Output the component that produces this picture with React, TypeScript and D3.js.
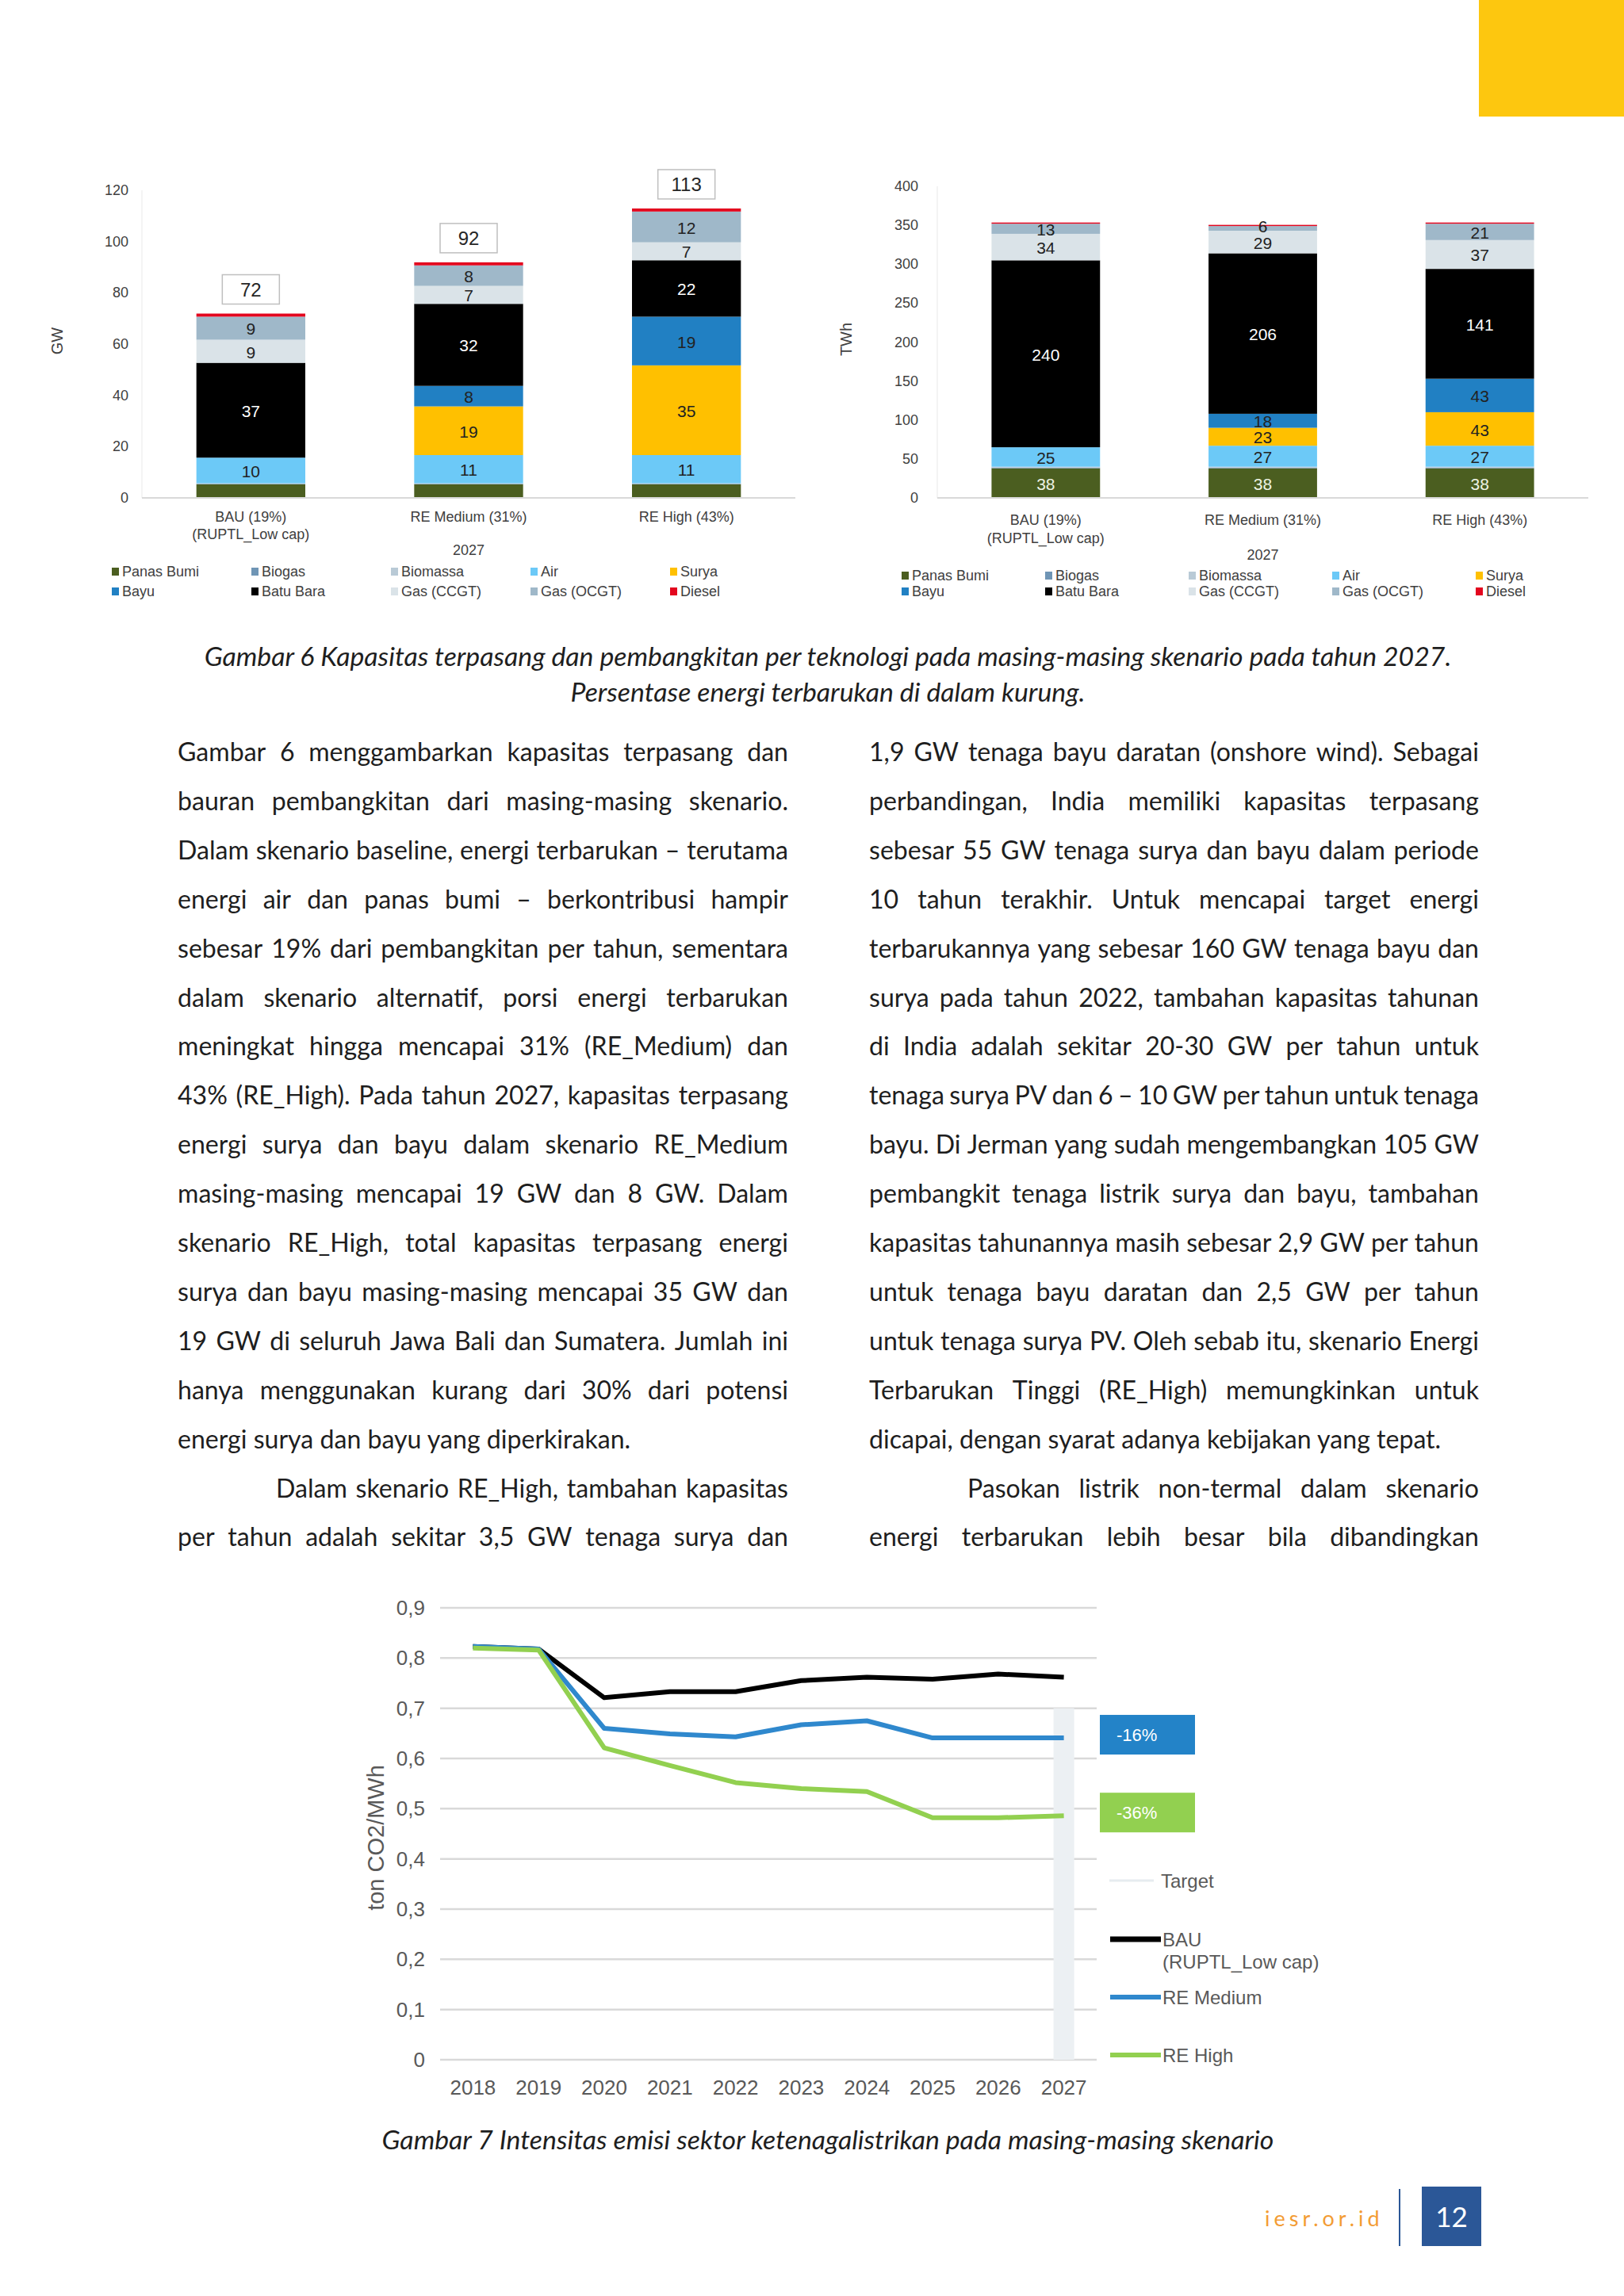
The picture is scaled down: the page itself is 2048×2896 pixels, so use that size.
import * as d3 from "d3";

const FONT_CHART = "'Liberation Sans', Arial, sans-serif";
const FONT_BODY = "Lato, 'Open Sans', sans-serif";

// ---------- Gambar 6: stacked bars ----------
const scenarios = ["BAU (19%)", "RE Medium (31%)", "RE High (43%)"];
const scenarioSub = ["(RUPTL_Low cap)", "", ""];
const yearLabel = "2027";
const techs = ["Panas Bumi", "Biogas", "Biomassa", "Air", "Surya", "Bayu", "Batu Bara", "Gas (CCGT)", "Gas (OCGT)", "Diesel"];
const techColors = ["#4B5E20", "#6F95B5", "#B9CAD6", "#6CC9F7", "#FFC000", "#2180C3", "#000000", "#DAE3E8", "#9FB8C9", "#E3061E"];
const techLabelColors = ["#EEF3E4", "#222", "#222", "#222", "#222", "#222", "#FFFFFF", "#222", "#222", "#222"];

// installed capacity, GW
const capPanasBumi = [5.3, 5.3, 5.3];
const capBiogas = [0.2, 0.2, 0.2];
const capBiomassa = [0.2, 0.2, 0.2];
const capAir = [10, 11, 11];
const capSurya = [0, 19, 35];
const capBayu = [0, 8, 19];
const capBatuBara = [37, 32, 22];
const capGasCCGT = [9, 7, 7];
const capGasOCGT = [9, 8, 12];
const capDiesel = [1.2, 1.2, 1.2];
const capTicks = [0, 20, 40, 60, 80, 100, 120];

// generation, TWh
const genPanasBumi = [38, 38, 38];
const genBiogas = [1, 1, 1];
const genBiomassa = [1, 1, 1];
const genAir = [25, 27, 27];
const genSurya = [0, 23, 43];
const genBayu = [0, 18, 43];
const genBatuBara = [240, 206, 141];
const genGasCCGT = [34, 29, 37];
const genGasOCGT = [13, 6, 21];
const genDiesel = [1.5, 1.5, 1.5];
const genTicks = [0, 50, 100, 150, 200, 250, 300, 350, 400];

const capSeries = [capPanasBumi, capBiogas, capBiomassa, capAir, capSurya, capBayu, capBatuBara, capGasCCGT, capGasOCGT, capDiesel];
const genSeries = [genPanasBumi, genBiogas, genBiomassa, genAir, genSurya, genBayu, genBatuBara, genGasCCGT, genGasOCGT, genDiesel];

// ---------- Gambar 7: emission intensity ----------
const years = ["2018", "2019", "2020", "2021", "2022", "2023", "2024", "2025", "2026", "2027"];
const bauIntensity = [0.823, 0.818, 0.721, 0.733, 0.733, 0.755, 0.762, 0.758, 0.768, 0.762];
const reMediumIntensity = [0.823, 0.818, 0.660, 0.649, 0.643, 0.667, 0.675, 0.641, 0.641, 0.641];
const reHighIntensity = [0.820, 0.816, 0.621, 0.586, 0.552, 0.540, 0.534, 0.482, 0.482, 0.486];
const intensityTicks = [0, 0.1, 0.2, 0.3, 0.4, 0.5, 0.6, 0.7, 0.8, 0.9];
const targetYear = "2027";
const targetValue = 0.7;
const reductionLabels = ["-16%", "-36%"];

// ---------- text ----------
const caption6 = [
  "Gambar 6 Kapasitas terpasang dan pembangkitan per teknologi pada masing-masing skenario pada tahun 2027.",
  "Persentase energi terbarukan di dalam kurung.",
];
const caption7 = "Gambar 7 Intensitas emisi sektor ketenagalistrikan pada masing-masing skenario";

const leftLines = [
  "Gambar 6 menggambarkan kapasitas terpasang dan",
  "bauran pembangkitan dari masing-masing skenario.",
  "Dalam skenario baseline, energi terbarukan – terutama",
  "energi air dan panas bumi – berkontribusi hampir",
  "sebesar 19% dari pembangkitan per tahun, sementara",
  "dalam skenario alternatif, porsi energi terbarukan",
  "meningkat hingga mencapai 31% (RE_Medium) dan",
  "43% (RE_High). Pada tahun 2027, kapasitas terpasang",
  "energi surya dan bayu dalam skenario RE_Medium",
  "masing-masing mencapai 19 GW dan 8 GW. Dalam",
  "skenario RE_High, total kapasitas terpasang energi",
  "surya dan bayu masing-masing mencapai 35 GW dan",
  "19 GW di seluruh Jawa Bali dan Sumatera. Jumlah ini",
  "hanya menggunakan kurang dari 30% dari potensi",
  "energi surya dan bayu yang diperkirakan.",
  "Dalam skenario RE_High, tambahan kapasitas",
  "per tahun adalah sekitar 3,5 GW tenaga surya dan",
];
const rightLines = [
  "1,9 GW tenaga bayu daratan (onshore wind). Sebagai",
  "perbandingan, India memiliki kapasitas terpasang",
  "sebesar 55 GW tenaga surya dan bayu dalam periode",
  "10 tahun terakhir. Untuk mencapai target energi",
  "terbarukannya yang sebesar 160 GW tenaga bayu dan",
  "surya pada tahun 2022, tambahan kapasitas tahunan",
  "di India adalah sekitar 20-30 GW per tahun untuk",
  "tenaga surya PV dan 6 – 10 GW per tahun untuk tenaga",
  "bayu. Di Jerman yang sudah mengembangkan 105 GW",
  "pembangkit tenaga listrik surya dan bayu, tambahan",
  "kapasitas tahunannya masih sebesar 2,9 GW per tahun",
  "untuk tenaga bayu daratan dan 2,5 GW per tahun",
  "untuk tenaga surya PV. Oleh sebab itu, skenario Energi",
  "Terbarukan Tinggi (RE_High) memungkinkan untuk",
  "dicapai, dengan syarat adanya kebijakan yang tepat.",
  "Pasokan listrik non-termal dalam skenario",
  "energi terbarukan lebih besar bila dibandingkan",
];
const paragraphEnds = [14];
const paragraphStarts = [15];

const BODY_SIZE = 32.1;
const ctx = document.createElement("canvas").getContext("2d")!;
function measure(s: string, font: string) {
  ctx.font = font;
  return ctx.measureText(s).width;
}

function Column({ lines, x, width, top, step }: { lines: string[]; x: number; width: number; top: number; step: number }) {
  const font = `${BODY_SIZE}px Lato`;
  return (
    <g fontFamily={FONT_BODY} fontSize={BODY_SIZE} fill="#1E1E1E">
      {lines.map((line, i) => {
        const y = top + i * step;
        const left = x + (paragraphStarts.includes(i) ? 124 : 0);
        if (paragraphEnds.includes(i)) return <text key={i} x={left} y={y}>{line}</text>;
        const words = line.split(/\s+/).filter(Boolean);
        const widths = words.map(w => measure(w, font));
        const gap = (x + width - left - d3.sum(widths)) / (words.length - 1);
        let cx = left;
        const xs = widths.map(w => { const p = cx; cx += w + gap; return p; });
        return (
          <text key={i} y={y}>
            {words.map((w, j) => <tspan key={j} x={xs[j]}>{w}</tspan>)}
          </text>
        );
      })}
    </g>
  );
}

type BarProps = {
  series: number[][]; ticks: number[]; left: number; right: number; top: number; bottom: number;
  tickX: number; unit: string; unitX: number; unitY: number; totals: boolean;
  catY: number[]; legendX: number; legendDx: number; legendY: number[];
};

function StackedBars(p: BarProps) {
  const rows = scenarios.map((s, i) => {
    const r: Record<string, number | string> = { scenario: s };
    techs.forEach((t, k) => { r[t] = p.series[k][i]; });
    return r;
  });
  const stacked = d3.stack<Record<string, number | string>>().keys(techs)(rows as any);
  const x = d3.scaleBand().domain(scenarios).range([p.left, p.right]).paddingInner(0.5).paddingOuter(0.25);
  const y = d3.scaleLinear().domain([0, p.ticks[p.ticks.length - 1]]).range([p.bottom, p.top]);
  const bw = x.bandwidth();
  return (
    <g fontFamily={FONT_CHART}>
      <line x1={p.left} x2={p.left} y1={p.top} y2={p.bottom} stroke="#F0F0F0" strokeWidth={1.5} />
      {p.ticks.map(t => (
        <text key={t} x={p.tickX} y={y(t)} textAnchor="end" dominantBaseline="central" fontSize={18} fill="#404040">{t}</text>
      ))}
      <text transform={`translate(${p.unitX},${p.unitY}) rotate(-90)`} textAnchor="middle" dominantBaseline="central" fontSize={20} fill="#404040">{p.unit}</text>
      {stacked.map((layer, k) => (
        <g key={layer.key} fill={techColors[k]}>
          {layer.map((d, i) => d[1] - d[0] > 0 ? (
            <rect key={i} x={x(scenarios[i])!} width={bw} y={y(d[1])} height={y(d[0]) - y(d[1])} />
          ) : null)}
        </g>
      ))}
      {stacked.map((layer, k) => (
        <g key={layer.key + "l"} fill={techLabelColors[k]} fontSize={21} textAnchor="middle" dominantBaseline="central">
          {layer.map((d, i) => {
            const v = d[1] - d[0];
            if (v < 6) return null;
            const ly = v < 7 ? y(d[1]) : y((d[0] + d[1]) / 2) + 1;
            return <text key={i} x={x(scenarios[i])! + bw / 2} y={ly}>{Math.round(v)}</text>;
          })}
        </g>
      ))}
      <line x1={p.left} x2={p.right} y1={p.bottom} y2={p.bottom} stroke="#D9D9D9" strokeWidth={2} />
      {p.totals && scenarios.map((s, i) => {
        const tot = d3.sum(p.series, ser => ser[i]);
        const cx = x(s)! + bw / 2;
        const yb = y(tot) - 12;
        return (
          <g key={s}>
            <rect x={cx - 36} y={yb - 37} width={72} height={37} fill="#fff" stroke="#BFBFBF" strokeWidth={1.5} />
            <text x={cx} y={yb - 18} textAnchor="middle" dominantBaseline="central" fontSize={24} fill="#262626">{Math.round(tot)}</text>
          </g>
        );
      })}
      {scenarios.map((s, i) => (
        <g key={s} fontSize={18} fill="#404040" textAnchor="middle">
          <text x={x(s)! + bw / 2} y={p.catY[0]}>{s}</text>
          {scenarioSub[i] && <text x={x(s)! + bw / 2} y={p.catY[1]}>{scenarioSub[i]}</text>}
        </g>
      ))}
      <text x={x(scenarios[1])! + bw / 2} y={p.catY[2]} textAnchor="middle" fontSize={18} fill="#404040">{yearLabel}</text>
      {techs.map((t, k) => {
        const col = k % 5, row = Math.floor(k / 5);
        const lx = p.legendX + col * p.legendDx, ly = p.legendY[row];
        return (
          <g key={t}>
            <rect x={lx} y={ly - 5} width={9} height={10} fill={techColors[k]} />
            <text x={lx + 13} y={ly} dominantBaseline="central" fontSize={18} fill="#404040">{t}</text>
          </g>
        );
      })}
    </g>
  );
}

function IntensityChart() {
  const left = 555, right = 1383, top = 2028, bottom = 2598;
  const x = d3.scaleBand().domain(years).range([left, right]);
  const y = d3.scaleLinear().domain([0, 0.9]).range([bottom, top]);
  const cx = (yr: string) => x(yr)! + x.bandwidth() / 2;
  const line = d3.line<number>().x((_, i) => cx(years[i])).y(d => y(d));
  const fmt = (v: number) => (v === 0 ? "0" : d3.format(".1f")(v).replace(".", ","));
  const series = [
    { name: "BAU", sub: "(RUPTL_Low cap)", data: bauIntensity, color: "#000000", w: 6, lw: 7, ly: 2446 },
    { name: "RE Medium", sub: "", data: reMediumIntensity, color: "#2F88CD", w: 6, lw: 6, ly: 2519 },
    { name: "RE High", sub: "", data: reHighIntensity, color: "#92D050", w: 6, lw: 6, ly: 2592 },
  ];
  const boxColors = ["#2383C8", "#92D050"];
  const boxSeries = [reMediumIntensity, reHighIntensity];
  return (
    <g fontFamily={FONT_CHART}>
      {intensityTicks.map(t => (
        <g key={t}>
          <line x1={left} x2={right} y1={y(t)} y2={y(t)} stroke="#D9D9D9" strokeWidth={2.5} />
          <text x={536} y={y(t)} textAnchor="end" dominantBaseline="central" fontSize={26} fill="#595959">{fmt(t)}</text>
        </g>
      ))}
      <rect x={cx(targetYear) - 13} width={26} y={y(targetValue)} height={y(0) - y(targetValue)} fill="#ECF0F3" />
      {years.map(yr => (
        <text key={yr} x={cx(yr)} y={2642} textAnchor="middle" fontSize={26} fill="#595959">{yr}</text>
      ))}
      <text transform="translate(474,2318) rotate(-90)" textAnchor="middle" dominantBaseline="central" fontSize={29} fill="#595959">ton CO2/MWh</text>
      {series.map(s => (
        <path key={s.name} d={line(s.data)!} fill="none" stroke={s.color} strokeWidth={s.w} strokeLinejoin="round" />
      ))}
      {boxSeries.map((d, i) => {
        const yc = y(d[d.length - 1]) - 4;
        return (
          <g key={i}>
            <rect x={1387} y={yc - 25} width={120} height={50} fill={boxColors[i]} />
            <text x={1408} y={yc} dominantBaseline="central" fontSize={22} fill="#fff">{reductionLabels[i]}</text>
          </g>
        );
      })}
      <line x1={1399} x2={1455} y1={2372} y2={2372} stroke="#E6ECF0" strokeWidth={3} />
      <text x={1464} y={2372} dominantBaseline="central" fontSize={24} fill="#595959">Target</text>
      {series.map(s => (
        <g key={s.name + "lg"}>
          <line x1={1400} x2={1464} y1={s.ly} y2={s.ly} stroke={s.color} strokeWidth={s.lw} />
          <text x={1466} y={s.ly} dominantBaseline="central" fontSize={24} fill="#595959">{s.name}</text>
          {s.sub && <text x={1466} y={s.ly + 28} dominantBaseline="central" fontSize={24} fill="#595959">{s.sub}</text>}
        </g>
      ))}
    </g>
  );
}

export default function App() {
  return (
    <svg width={2048} height={2896} style={{ position: "absolute", left: 0, top: 0, background: "#fff" }}>
      <rect width={2048} height={2896} fill="#fff" />
      <rect x={1865} y={0} width={183} height={147} fill="#FDC70F" />

      <StackedBars series={capSeries} ticks={capTicks} left={179} right={1003} top={240} bottom={628}
        tickX={162} unit="GW" unitX={72} unitY={430} totals={true}
        catY={[658, 680, 700]} legendX={141} legendDx={176} legendY={[721, 746]} />
      <StackedBars series={genSeries} ticks={genTicks} left={1182} right={2003} top={235} bottom={628}
        tickX={1158} unit="TWh" unitX={1067} unitY={428} totals={false}
        catY={[662, 685, 706]} legendX={1137} legendDx={181} legendY={[726, 746]} />

      <g fontFamily={FONT_BODY} fontStyle="italic" fontSize={33.8} fill="#1E1E1E" textAnchor="middle">
        <text x={1044} y={840}>{caption6[0]}</text>
        <text x={1044} y={885}>{caption6[1]}</text>
      </g>

      <Column lines={leftLines} x={224} width={770} top={960} step={61.9} />
      <Column lines={rightLines} x={1096} width={769} top={960} step={61.9} />

      <IntensityChart />

      <text x={1044} y={2711} textAnchor="middle" fontFamily={FONT_BODY} fontStyle="italic" fontSize={33.8} fill="#1E1E1E">{caption7}</text>

      <text x={1595} y={2808} fontFamily={FONT_BODY} fontSize={27} letterSpacing={5} fill="#F39C34">iesr.or.id</text>
      <line x1={1765} x2={1765} y1={2761} y2={2833} stroke="#2B5797" strokeWidth={2} />
      <rect x={1793} y={2758} width={75} height={75} fill="#2B5797" />
      <text x={1830.5} y={2795} textAnchor="middle" dominantBaseline="central" fontFamily={FONT_BODY} fontSize={35} fill="#fff">12</text>
    </svg>
  );
}
